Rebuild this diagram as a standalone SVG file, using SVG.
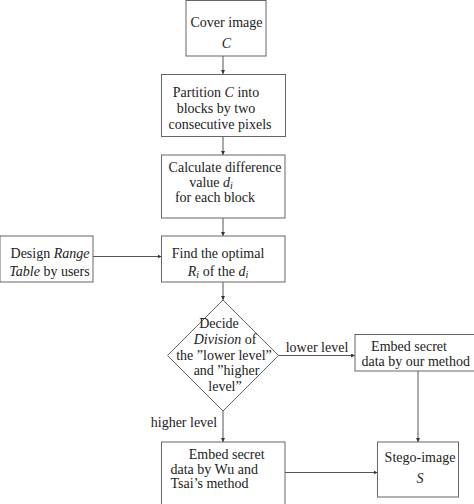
<svg xmlns="http://www.w3.org/2000/svg" width="474" height="504" viewBox="0 0 474 504">
<style>
.box{fill:#fff;stroke:#666;stroke-width:1}
.t{font-family:"Liberation Serif","Times New Roman",serif;font-size:14px;fill:#222}
.m{text-anchor:middle}
.i{font-style:italic}
.c{stroke:#555;stroke-width:1;fill:none;marker-end:url(#ah)}
</style>
<defs>
<marker id="ah" markerUnits="userSpaceOnUse" markerWidth="6" markerHeight="6" refX="4" refY="2" orient="auto">
<path d="M0,0 L4,2 L0,4 Z" fill="#333"/>
</marker>
</defs>
<rect width="474" height="504" fill="#fff"/>
<g id="connectors">
<line class="c" x1="223" y1="56" x2="223" y2="74"/>
<line class="c" x1="223" y1="137" x2="223" y2="155"/>
<line class="c" x1="223" y1="218" x2="223" y2="236"/>
<line class="c" x1="93" y1="256.5" x2="161.5" y2="256.5"/>
<line class="c" x1="223" y1="282" x2="223" y2="300"/>
<line class="c" x1="278.5" y1="355.5" x2="355" y2="355.5"/>
<line class="c" x1="223" y1="411" x2="223" y2="442"/>
<line class="c" x1="285" y1="472.5" x2="377.5" y2="472.5"/>
<line class="c" x1="418" y1="371" x2="418" y2="442"/>
<text class="t m" x="317" y="352">lower level</text>
<text class="t m" x="184" y="427">higher level</text>
</g>
<g id="cover">
<rect class="box" x="186" y="0.5" width="80" height="55.5"/>
<text class="t m" x="226.5" y="27">Cover image</text>
<text class="t m i" x="226.5" y="48">C</text>
</g>
<g id="partition">
<rect class="box" x="161.5" y="74.5" width="124" height="62"/>
<text class="t m" x="216" y="97">Partition <tspan class="i">C</tspan> into</text>
<text class="t m" x="216" y="112.5">blocks by two</text>
<text class="t m" x="220" y="128.5">consecutive pixels</text>
</g>
<g id="calculate">
<rect class="box" x="161.5" y="155" width="123.5" height="63"/>
<text class="t m" x="225" y="172">Calculate difference</text>
<text class="t m" x="211" y="187">value <tspan class="i">d</tspan><tspan class="i" font-size="10" dy="2">i</tspan></text>
<text class="t m" x="215" y="202">for each block</text>
</g>
<g id="find">
<rect class="box" x="161.5" y="236" width="123.5" height="46"/>
<text class="t m" x="218" y="258">Find the optimal</text>
<text class="t m" x="218" y="275.5"><tspan class="i">R</tspan><tspan class="i" font-size="10" dy="2">i</tspan><tspan dy="-2"> of the </tspan><tspan class="i">d</tspan><tspan class="i" font-size="10" dy="2">i</tspan></text>
</g>
<g id="design">
<rect class="box" x="0" y="236" width="93" height="46"/>
<text class="t m" x="50" y="258">Design <tspan class="i">Range</tspan></text>
<text class="t m" x="49.5" y="275.5"><tspan class="i">Table</tspan> by users</text>
</g>
<g id="decide">
<polygon class="box" points="223,300 278.5,355.5 223,411 167.5,355.5"/>
<text class="t m" x="219" y="328">Decide</text>
<text class="t m" x="225" y="344"><tspan class="i">Division</tspan> of</text>
<text class="t m" x="224" y="359.5">the ”lower level”</text>
<text class="t m" x="226.5" y="375">and ”higher</text>
<text class="t m" x="225" y="391">level”</text>
</g>
<g id="embed-our">
<rect class="box" x="355" y="334.5" width="125" height="36.5"/>
<text class="t m" x="409" y="350.5">Embed secret</text>
<text class="t" x="361.5" y="366">data by our method</text>
</g>
<g id="embed-wu">
<rect class="box" x="161.5" y="442" width="123.5" height="70"/>
<text class="t m" x="226.7" y="458.5">Embed secret</text>
<text class="t" x="170.5" y="473.5">data by Wu and</text>
<text class="t" x="170.5" y="488">Tsai’s method</text>
</g>
<g id="stego">
<rect class="box" x="377.5" y="442" width="81" height="55"/>
<text class="t m" x="420" y="462">Stego-image</text>
<text class="t m i" x="420" y="483">S</text>
</g>
</svg>
